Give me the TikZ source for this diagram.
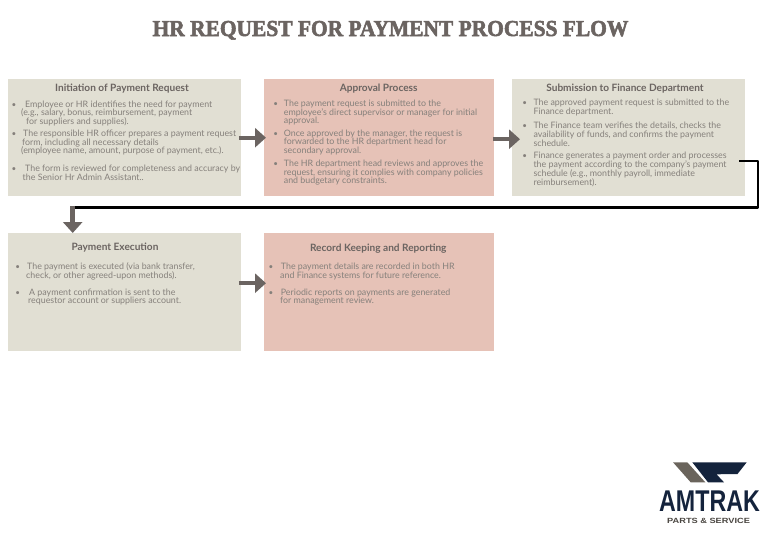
\documentclass[tikz,border=0pt]{standalone}
\usepackage{fontspec}
\usetikzlibrary{arrows.meta,calc}
\setsansfont{Lato}
\newfontfamily\titlefont[BoldFeatures={FakeBold=2.4}]{Liberation Serif}
\newfontfamily\logofont{Liberation Sans}
\definecolor{beigebox}{HTML}{E1DFD3}
\definecolor{pinkbox}{HTML}{E6C2B7}
\definecolor{arrowgrey}{HTML}{6B6461}
\definecolor{bodygrey}{HTML}{85807B}
\definecolor{logonavy}{HTML}{14233C}
\definecolor{logogrey}{HTML}{6A645C}
\tikzset{
  panel/.style={anchor=north west,inner sep=0pt,minimum width=#1,minimum height=117pt},
  panelbeige/.style={panel=233pt,fill=beigebox},
  panelpink/.style={panel=230pt,fill=pinkbox},
  paneltitle/.style={anchor=base,inner sep=0pt,text=arrowgrey,font=\sffamily\bfseries\fontsize{10.1}{10.1}\selectfont},
  bodyline/.style={anchor=base west,inner sep=0pt,text=bodygrey,font=\sffamily\fontsize{8.85}{8.85}\selectfont},
  bulletmark/.style={anchor=base,inner sep=0pt,text=bodygrey,font=\sffamily\fontsize{8.1}{8.1}\selectfont},
  flowarrow/.style={draw=arrowgrey,line width=4.4pt,-{Triangle[length=11pt,width=19pt]}},
  linkline/.style={draw=black,line width=2.4pt,line join=round},
}
\newcommand{\tl}[4]{\node[bodyline] (#1) at (#2,#3) {#4};}
\newcommand{\bu}[3]{\node[bulletmark] (#1) at (#2,#3) {•};}
\begin{document}
\begin{tikzpicture}[x=1pt,y=-1pt]
\useasboundingbox (0,0) rectangle (768,544);
\fill[white] (0,0) rectangle (768,544);
\node[anchor=base,inner sep=0pt,text=arrowgrey,font=\titlefont\bfseries\fontsize{22.8}{22.8}\selectfont] (maintitle) at (390.5,36) {\scalebox{.94}[1]{HR REQUEST FOR PAYMENT PROCESS FLOW}};

\node[panelbeige] (b1) at (8,79) {};
\node[panelpink] (b2) at (264,79) {};
\node[panelbeige] (b3) at (512,79) {};
\node[panelbeige,minimum height=118pt] (b4) at (8,233) {};
\node[panelpink,minimum height=118pt] (b5) at (264,233) {};

\node[paneltitle] (t1) at (122,91) {Initiation of Payment Request};
\node[paneltitle] (t2) at (378.7,91) {Approval Process};
\node[paneltitle] (t3) at (625,91) {Submission to Finance Department};
\node[paneltitle] (t4) at (115,250) {Payment Execution};
\node[paneltitle] (t5) at (378.3,251) {Record Keeping and Reporting};

\bu{p1}{14}{107}
\tl{a1}{25}{107}{Employee or HR identifies the need for payment}
\tl{a2}{21}{115.3}{(e.g., salary, bonus, reimbursement, payment}
\tl{a3}{26}{124}{for suppliers and supplies).}
\bu{p2}{14}{136.7}
\tl{a4}{23}{136.7}{The responsible HR officer prepares a payment request}
\tl{a5}{22}{145}{form, including all necessary details}
\tl{a6}{21}{153.7}{(employee name, amount, purpose of payment, etc.).}
\bu{p3}{14}{171}
\tl{a7}{25}{171}{The form is reviewed for completeness and accuracy by}
\tl{a8}{22.5}{180}{the Senior Hr Admin Assistant..}

\bu{q1}{275.7}{106}
\tl{c1}{283.7}{106}{The payment request is submitted to the}
\tl{c2}{283.7}{115}{employee's direct supervisor or manager for initial}
\tl{c3}{283.7}{123.3}{approval.}
\bu{q2}{275.7}{136.3}
\tl{c4}{283.7}{136.3}{Once approved by the manager, the request is}
\tl{c5}{283.7}{144.7}{forwarded to the HR department head for}
\tl{c6}{283.7}{153.7}{secondary approval.}
\bu{q3}{275.7}{166}
\tl{c7}{283.7}{166}{The HR department head reviews and approves the}
\tl{c8}{283.7}{175}{request, ensuring it complies with company policies}
\tl{c9}{283.7}{183.7}{and budgetary constraints.}

\bu{r1}{524.7}{105.3}
\tl{d1}{533.3}{105.3}{The approved payment request is submitted to the}
\tl{d2}{533.3}{114.3}{Finance department.}
\bu{r2}{524.7}{128}
\tl{d3}{533.3}{128}{The Finance team verifies the details, checks the}
\tl{d4}{533.3}{137.3}{availability of funds, and confirms the payment}
\tl{d5}{533.3}{146.3}{schedule.}
\bu{r3}{524.7}{158.7}
\tl{d6}{533.3}{158.7}{Finance generates a payment order and processes}
\tl{d7}{533.3}{167.7}{the payment according to the company's payment}
\tl{d8}{533.3}{176}{schedule (e.g., monthly payroll, immediate}
\tl{d9}{533.3}{185}{reimbursement).}

\bu{s1}{17.7}{269}
\tl{e1}{27}{269}{The payment is executed (via bank transfer,}
\tl{e2}{26}{278}{check, or other agreed-upon methods).}
\bu{s2}{17.7}{295}
\tl{e3}{29}{295}{A payment confirmation is sent to the}
\tl{e4}{28}{303.3}{requestor account or suppliers account.}

\bu{u1}{271}{269}
\tl{f1}{280.7}{269}{The payment details are recorded in both HR}
\tl{f2}{280}{278}{and Finance systems for future reference.}
\bu{u2}{271}{295.3}
\tl{f3}{280.7}{295.3}{Periodic reports on payments are generated}
\tl{f4}{280}{303.7}{for management review.}

% connectors
\draw[flowarrow] ([xshift=-2.5pt]b1.east) -- ([xshift=2pt]b2.west);
\draw[flowarrow] ([xshift=-1.5pt,yshift=-1.5pt]b2.east) -- ([xshift=8pt,yshift=-1.5pt]b3.west);
\draw[flowarrow] ([xshift=-2.5pt,yshift=9pt]b4.east) -- ([xshift=2pt,yshift=9pt]b5.west);
\coordinate (linkstart) at (739,160.8);
\coordinate (linkturn) at (72.7,207.4);
\draw[linkline] (linkstart) -- (758,160.8) -- (758,207.4) -- (linkturn);
\draw[flowarrow,line width=5pt] (linkturn |- 0,206.3) -- (linkturn |- b4.north);

% logo
\fill[logogrey] (673,462.3) -- (687.3,462.3) -- (705.3,482.3) -- (690.7,482.3) -- cycle;
\fill[logonavy] (692.3,462.3) -- (746.7,462.3) -- (737.5,474) -- (716.5,474.3) -- (724,482.3) -- (708,482.3) -- cycle;
\node[anchor=base west,inner sep=0pt,text=logonavy,font=\logofont\bfseries\fontsize{30}{30}\selectfont] (logoname) at (659,511) {\scalebox{.775}[1]{AMTRAK}};
\node[anchor=base west,inner sep=0pt,text=logogrey!70!black,font=\logofont\bfseries\fontsize{7.5}{7.5}\selectfont] (logosub) at (667,523.3) {\scalebox{1.23}[1]{PARTS \& SERVICE}};
\end{tikzpicture}
\end{document}
